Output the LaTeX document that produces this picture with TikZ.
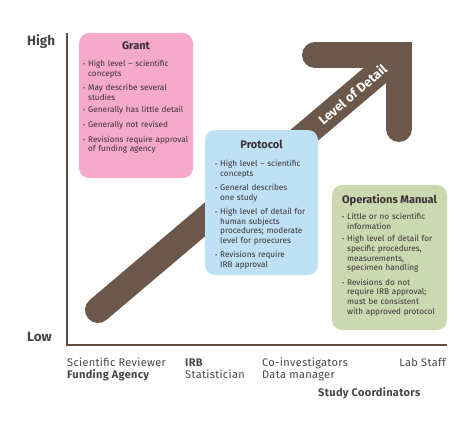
\documentclass[tikz,border=0pt]{standalone}
\usepackage{fontspec}
\setsansfont{Fira Sans}
\newfontfamily\whofont[LetterSpace=3]{Fira Sans}
\usetikzlibrary{positioning, calc}
\definecolor{cbrown}{HTML}{6B584A}
\definecolor{caxis}{HTML}{5E4E44}
\definecolor{cpink}{HTML}{F5AACA}
\definecolor{cblue}{HTML}{BEE1F5}
\definecolor{cgreen}{HTML}{CCD9B0}
\definecolor{ctext}{HTML}{3B2F36}
\definecolor{clabel}{HTML}{4A4446}
% one bullet point, continuation lines hang under the text
\newcommand{\itm}[1]{\par\noindent\makebox[5pt][l]{\scalebox{0.8}{\textbullet}}\parbox[t]{110pt}{#1}}
\tikzset{
  every picture/.style={font=\sffamily},
  box/.style={fill=#1, rounded corners=10pt, minimum width=114pt, minimum height=145pt, inner sep=0pt},
  box/.default=cpink,
  title/.style={font=\sffamily\bfseries\fontsize{11}{13}\selectfont, text=ctext, inner sep=0pt, anchor=base},
  list/.style={font=\sffamily\fontsize{8.2}{9.7}\selectfont, text=ctext, inner sep=0pt, anchor=base west,
    text width=120pt, align=left, execute at begin node={\setlength{\parskip}{5pt}}},
  axislabel/.style={font=\sffamily\bfseries\fontsize{13.5}{15}\selectfont, text=clabel, inner sep=0pt, anchor=base west},
  who/.style={font=\whofont\fontsize{11}{13}\selectfont, text=clabel, inner sep=0pt, anchor=base west},
  whob/.style={who, font=\whofont\bfseries\fontsize{11}{13}\selectfont},
  shaft/.style={draw=cbrown, line width=26pt, line cap=round},
}
\begin{document}
\begin{tikzpicture}[x=1pt, y=-1pt]
  \useasboundingbox (0,0) rectangle (474,431);
  % axes
  \coordinate (top) at (67,33);
  \coordinate (origin) at (67,345);
  \coordinate (right) at (447,345);
  \draw[caxis, line width=1.6pt] (top) -- (origin) -- (right);
  \node[axislabel] (high) at (27,45) {High};
  \node[axislabel] (low) at (27,341) {Low};
  % level of detail arrow
  \coordinate (tail) at (98,310);
  \coordinate (tip) at (399,55);
  \coordinate (headl) at (315,55);
  \coordinate (headd) at (399,129);
  \draw[shaft, line join=miter] (headl) -- (tip) -- (headd);
  \draw[shaft] (tail) -- node[pos=0.845, sloped, text=white, font=\sffamily\bfseries\fontsize{13}{15}\selectfont] (lod) {Level of Detail} (tip);
  % documents
  \node[box=cpink] (grant) at (136,105.5) {};
  \node[title] (grantt) at ($(grant.north)+(0,17)$) {Grant};
  \node[list] (grantl) at (83,52) {\itm{High level -- scientific\\concepts}
    \itm{May describe several\\studies}
    \itm{Generally has little detail}
    \itm{Generally not revised}
    \itm{Revisions require approval\\of funding agency}};
  \node[box=cblue, minimum width=113pt] (prot) at (261.5,202.5) {};
  \node[title] (prott) at ($(prot.north)+(0,19)$) {Protocol};
  \node[list] (protl) at (215,152) {\itm{High level -- scientific\\concepts}
    \itm{General describes\\one study}
    \itm{High level of detail for\\human subjects\\procedures; moderate\\level for proecures}
    \itm{Revisions require\\IRB approval}};
  \node[box=cgreen, minimum width=115pt] (ops) at (389.5,257.5) {};
  \node[title] (opst) at ($(ops.north)+(0,19)$) {Operations Manual};
  \node[list] (opsl) at (342,205) {\itm{Little or no scientific\\information}
    \itm{High level of detail for\\specific procedures,\\measurements,\\specimen handling}
    \itm{Revisions do not\\require IRB approval;\\must be consistent\\with approved protocol}};
  % who reads them
  \node[who] (rev) at (67,366) {Scientific Reviewer};
  \node[whob] (fund) at (67,378) {Funding Agency};
  \node[whob] (irb) at (185,366) {IRB};
  \node[who] (stat) at (185,378) {Statistician};
  \node[who] (coi) at (262,366) {Co-investigators};
  \node[who] (dm) at (262,378) {Data manager};
  \node[who, anchor=base east] (lab) at (446,366) {Lab Staff};
  \node[whob] (sc) at (318,396) {Study Coordinators};
\end{tikzpicture}
\end{document}
